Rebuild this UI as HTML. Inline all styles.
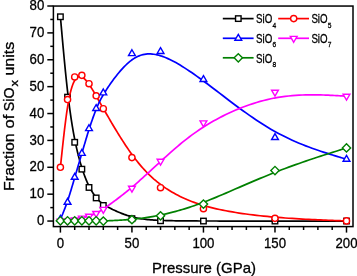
<!DOCTYPE html>
<html><head><meta charset="utf-8"><title>Fraction of SiOx units vs Pressure</title>
<style>html,body{margin:0;padding:0;background:#fff}svg text{white-space:pre;stroke:#000;stroke-width:0.3px}</style></head>
<body>
<svg width="357" height="276" viewBox="0 0 357 276" style="display:block">
<rect width="357" height="276" fill="#fff"/>
<g stroke="#000" stroke-width="1.50" fill="none">
<rect x="53.40" y="6.05" width="299.60" height="220.55"/>
<path d="M53.40 221.05H47.30"/>
<path d="M53.40 207.61H50.30"/>
<path d="M53.40 194.17H47.30"/>
<path d="M53.40 180.73H50.30"/>
<path d="M53.40 167.29H47.30"/>
<path d="M53.40 153.85H50.30"/>
<path d="M53.40 140.41H47.30"/>
<path d="M53.40 126.97H50.30"/>
<path d="M53.40 113.53H47.30"/>
<path d="M53.40 100.09H50.30"/>
<path d="M53.40 86.65H47.30"/>
<path d="M53.40 73.21H50.30"/>
<path d="M53.40 59.77H47.30"/>
<path d="M53.40 46.33H50.30"/>
<path d="M53.40 32.89H47.30"/>
<path d="M53.40 19.45H50.30"/>
<path d="M53.40 6.01H47.30"/>
<path d="M60.40 226.60V232.60"/>
<path d="M74.70 226.60V230.00"/>
<path d="M89.01 226.60V230.00"/>
<path d="M103.31 226.60V230.00"/>
<path d="M117.62 226.60V230.00"/>
<path d="M131.93 226.60V232.60"/>
<path d="M146.23 226.60V230.00"/>
<path d="M160.53 226.60V230.00"/>
<path d="M174.84 226.60V230.00"/>
<path d="M189.15 226.60V230.00"/>
<path d="M203.45 226.60V232.60"/>
<path d="M217.76 226.60V230.00"/>
<path d="M232.06 226.60V230.00"/>
<path d="M246.37 226.60V230.00"/>
<path d="M260.67 226.60V230.00"/>
<path d="M274.98 226.60V232.60"/>
<path d="M289.28 226.60V230.00"/>
<path d="M303.59 226.60V230.00"/>
<path d="M317.89 226.60V230.00"/>
<path d="M332.19 226.60V230.00"/>
<path d="M346.50 226.60V232.60"/>
</g>
<path d="M60.40 16.76 L60.40 16.76 L60.40 16.78 L60.40 16.81 L60.41 16.87 L60.42 16.97 L60.43 17.13 L60.45 17.34 L60.48 17.63 L60.51 18.00 L60.55 18.46 L60.60 19.02 L60.66 19.69 L60.73 20.48 L60.81 21.41 L60.91 22.48 L61.02 23.70 L61.14 25.08 L61.28 26.64 L61.43 28.38 L61.61 30.31 L61.80 32.44 L62.00 34.76 L62.23 37.25 L62.46 39.90 L62.72 42.69 L62.98 45.61 L63.26 48.64 L63.55 51.77 L63.85 54.99 L64.16 58.27 L64.48 61.61 L64.81 64.99 L65.14 68.40 L65.48 71.82 L65.83 75.23 L66.18 78.63 L66.53 81.99 L66.89 85.31 L67.25 88.57 L67.61 91.75 L67.97 94.84 L68.33 97.85 L68.68 100.77 L69.04 103.61 L69.40 106.37 L69.76 109.05 L70.12 111.66 L70.48 114.20 L70.84 116.66 L71.20 119.05 L71.56 121.38 L71.92 123.64 L72.27 125.84 L72.63 127.98 L72.99 130.06 L73.35 132.08 L73.71 134.05 L74.07 135.97 L74.43 137.84 L74.79 139.66 L75.15 141.44 L75.51 143.17 L75.86 144.85 L76.22 146.50 L76.58 148.10 L76.94 149.67 L77.30 151.19 L77.66 152.68 L78.02 154.13 L78.38 155.55 L78.74 156.93 L79.10 158.29 L79.45 159.61 L79.81 160.90 L80.17 162.16 L80.53 163.40 L80.89 164.60 L81.25 165.79 L81.61 166.95 L81.97 168.09 L82.33 169.20 L82.69 170.30 L83.04 171.37 L83.40 172.42 L83.76 173.45 L84.12 174.46 L84.48 175.45 L84.84 176.42 L85.20 177.36 L85.56 178.29 L85.92 179.19 L86.28 180.08 L86.64 180.94 L86.99 181.78 L87.35 182.61 L87.71 183.41 L88.07 184.20 L88.43 184.96 L88.79 185.70 L89.15 186.43 L89.51 187.13 L89.87 187.82 L90.23 188.49 L90.58 189.14 L90.94 189.77 L91.30 190.39 L91.66 190.99 L92.02 191.57 L92.38 192.14 L92.74 192.70 L93.10 193.25 L93.46 193.78 L93.82 194.30 L94.17 194.81 L94.53 195.30 L94.89 195.79 L95.25 196.27 L95.61 196.74 L95.97 197.20 L96.33 197.65 L96.69 198.09 L97.05 198.53 L97.42 198.97 L97.80 199.40 L98.20 199.83 L98.60 200.25 L99.03 200.68 L99.47 201.11 L99.94 201.54 L100.44 201.97 L100.96 202.40 L101.51 202.85 L102.10 203.29 L102.72 203.75 L103.38 204.21 L104.09 204.68 L104.84 205.16 L105.64 205.66 L106.48 206.16 L107.38 206.68 L108.33 207.22 L109.34 207.76 L110.39 208.31 L111.48 208.87 L112.61 209.44 L113.79 210.00 L115.00 210.57 L116.24 211.14 L117.52 211.70 L118.82 212.25 L120.15 212.80 L121.50 213.34 L122.87 213.86 L124.26 214.38 L125.67 214.87 L127.08 215.35 L128.51 215.80 L129.94 216.24 L131.37 216.64 L132.81 217.03 L134.25 217.38 L135.69 217.71 L137.13 218.01 L138.58 218.29 L140.04 218.55 L141.51 218.79 L142.99 219.00 L144.49 219.20 L146.00 219.38 L147.53 219.54 L149.08 219.69 L150.65 219.82 L152.24 219.94 L153.85 220.05 L155.50 220.15 L157.17 220.23 L158.87 220.31 L160.60 220.38 L162.37 220.45 L164.17 220.51 L166.01 220.56 L167.89 220.61 L169.81 220.66 L171.77 220.70 L173.78 220.74 L175.83 220.78 L177.93 220.81 L180.08 220.84 L182.28 220.86 L184.54 220.89 L186.85 220.91 L189.22 220.93 L191.65 220.94 L194.14 220.96 L196.69 220.97 L199.31 220.98 L201.99 220.99 L204.74 221.00 L207.56 221.00 L210.45 221.01 L213.41 221.02 L216.44 221.02 L219.52 221.03 L222.67 221.03 L225.87 221.03 L229.12 221.04 L232.42 221.04 L235.77 221.04 L239.15 221.04 L242.57 221.05 L246.03 221.05 L249.51 221.05 L253.02 221.05 L256.55 221.05 L260.11 221.05 L263.67 221.05 L267.25 221.05 L270.83 221.05 L274.42 221.05 L278.01 221.05 L281.59 221.05 L285.16 221.05 L288.70 221.05 L292.20 221.05 L295.66 221.05 L299.07 221.05 L302.42 221.05 L305.69 221.05 L308.88 221.05 L311.99 221.05 L315.00 221.05 L317.90 221.05 L320.68 221.05 L323.34 221.05 L325.87 221.05 L328.25 221.05 L330.48 221.05 L332.54 221.05 L334.44 221.05 L336.16 221.05 L337.71 221.05 L339.09 221.05 L340.33 221.05 L341.41 221.05 L342.36 221.05 L343.19 221.05 L343.90 221.05 L344.49 221.05 L344.99 221.05 L345.40 221.05 L345.73 221.05 L345.98 221.05 L346.17 221.05 L346.31 221.05 L346.40 221.05 L346.46 221.05 L346.49 221.05 L346.50 221.05 L346.50 221.05" fill="none" stroke="#000000" stroke-width="1.70" stroke-linejoin="round"/>
<rect x="57.65" y="14.01" width="5.50" height="5.50" fill="#fff" stroke="#000000" stroke-width="1.40"/>
<rect x="64.80" y="94.38" width="5.50" height="5.50" fill="#fff" stroke="#000000" stroke-width="1.40"/>
<rect x="71.95" y="139.54" width="5.50" height="5.50" fill="#fff" stroke="#000000" stroke-width="1.40"/>
<rect x="79.11" y="166.42" width="5.50" height="5.50" fill="#fff" stroke="#000000" stroke-width="1.40"/>
<rect x="86.26" y="184.70" width="5.50" height="5.50" fill="#fff" stroke="#000000" stroke-width="1.40"/>
<rect x="93.41" y="195.18" width="5.50" height="5.50" fill="#fff" stroke="#000000" stroke-width="1.40"/>
<rect x="100.56" y="202.71" width="5.50" height="5.50" fill="#fff" stroke="#000000" stroke-width="1.40"/>
<rect x="129.18" y="215.88" width="5.50" height="5.50" fill="#fff" stroke="#000000" stroke-width="1.40"/>
<rect x="157.78" y="218.03" width="5.50" height="5.50" fill="#fff" stroke="#000000" stroke-width="1.40"/>
<rect x="200.70" y="218.30" width="5.50" height="5.50" fill="#fff" stroke="#000000" stroke-width="1.40"/>
<rect x="272.23" y="218.30" width="5.50" height="5.50" fill="#fff" stroke="#000000" stroke-width="1.40"/>
<rect x="343.75" y="218.30" width="5.50" height="5.50" fill="#fff" stroke="#000000" stroke-width="1.40"/>
<path d="M60.40 167.29 L60.40 167.29 L60.40 167.28 L60.40 167.25 L60.41 167.20 L60.42 167.11 L60.43 166.98 L60.45 166.80 L60.48 166.56 L60.51 166.25 L60.55 165.86 L60.60 165.39 L60.66 164.82 L60.73 164.15 L60.81 163.37 L60.91 162.47 L61.02 161.44 L61.14 160.28 L61.28 158.96 L61.43 157.50 L61.61 155.87 L61.80 154.07 L62.00 152.12 L62.23 150.03 L62.46 147.81 L62.72 145.48 L62.98 143.05 L63.26 140.54 L63.55 137.96 L63.85 135.32 L64.16 132.64 L64.48 129.93 L64.81 127.22 L65.14 124.50 L65.48 121.80 L65.83 119.13 L66.18 116.50 L66.53 113.94 L66.89 111.44 L67.25 109.04 L67.61 106.73 L67.97 104.54 L68.33 102.46 L68.68 100.48 L69.04 98.61 L69.40 96.84 L69.76 95.17 L70.12 93.59 L70.48 92.10 L70.84 90.71 L71.20 89.39 L71.56 88.17 L71.92 87.02 L72.27 85.95 L72.63 84.95 L72.99 84.02 L73.35 83.16 L73.71 82.36 L74.07 81.63 L74.43 80.95 L74.79 80.33 L75.15 79.76 L75.51 79.24 L75.86 78.77 L76.22 78.35 L76.58 77.98 L76.94 77.65 L77.30 77.37 L77.66 77.13 L78.02 76.93 L78.38 76.77 L78.74 76.65 L79.10 76.57 L79.45 76.52 L79.81 76.51 L80.17 76.53 L80.53 76.58 L80.89 76.66 L81.25 76.77 L81.61 76.91 L81.97 77.07 L82.33 77.26 L82.69 77.47 L83.04 77.71 L83.40 77.97 L83.76 78.25 L84.12 78.55 L84.48 78.87 L84.84 79.21 L85.20 79.57 L85.56 79.94 L85.92 80.34 L86.28 80.75 L86.64 81.17 L86.99 81.61 L87.35 82.07 L87.71 82.53 L88.07 83.01 L88.43 83.51 L88.79 84.01 L89.15 84.52 L89.51 85.04 L89.87 85.57 L90.23 86.11 L90.58 86.65 L90.94 87.21 L91.30 87.77 L91.66 88.34 L92.02 88.92 L92.38 89.50 L92.74 90.09 L93.10 90.68 L93.46 91.28 L93.82 91.88 L94.17 92.49 L94.53 93.10 L94.89 93.72 L95.25 94.34 L95.61 94.96 L95.97 95.59 L96.33 96.21 L96.69 96.85 L97.05 97.49 L97.42 98.14 L97.80 98.81 L98.20 99.50 L98.60 100.22 L99.03 100.97 L99.47 101.75 L99.94 102.58 L100.44 103.45 L100.96 104.37 L101.51 105.34 L102.10 106.36 L102.72 107.45 L103.38 108.61 L104.09 109.84 L104.84 111.14 L105.64 112.52 L106.48 113.99 L107.38 115.54 L108.33 117.19 L109.34 118.91 L110.39 120.70 L111.48 122.56 L112.61 124.48 L113.79 126.46 L115.00 128.47 L116.24 130.53 L117.52 132.62 L118.82 134.73 L120.15 136.86 L121.50 139.00 L122.87 141.15 L124.26 143.29 L125.67 145.42 L127.08 147.54 L128.51 149.63 L129.94 151.69 L131.37 153.71 L132.81 155.69 L134.25 157.62 L135.69 159.51 L137.13 161.35 L138.58 163.15 L140.04 164.90 L141.51 166.62 L142.99 168.30 L144.49 169.94 L146.00 171.54 L147.53 173.10 L149.08 174.64 L150.65 176.13 L152.24 177.60 L153.85 179.04 L155.50 180.44 L157.17 181.82 L158.87 183.17 L160.60 184.50 L162.37 185.80 L164.17 187.08 L166.01 188.33 L167.89 189.56 L169.81 190.77 L171.77 191.95 L173.78 193.11 L175.83 194.24 L177.93 195.35 L180.08 196.44 L182.28 197.50 L184.54 198.53 L186.85 199.54 L189.22 200.52 L191.65 201.47 L194.14 202.40 L196.69 203.30 L199.31 204.17 L201.99 205.02 L204.74 205.84 L207.56 206.63 L210.45 207.39 L213.41 208.12 L216.44 208.83 L219.52 209.50 L222.67 210.16 L225.87 210.78 L229.12 211.38 L232.42 211.96 L235.77 212.51 L239.15 213.04 L242.57 213.55 L246.03 214.03 L249.51 214.49 L253.02 214.93 L256.55 215.34 L260.11 215.74 L263.67 216.11 L267.25 216.47 L270.83 216.81 L274.42 217.13 L278.01 217.43 L281.59 217.71 L285.16 217.98 L288.70 218.23 L292.20 218.46 L295.66 218.68 L299.07 218.89 L302.42 219.08 L305.69 219.25 L308.88 219.42 L311.99 219.57 L315.00 219.71 L317.90 219.84 L320.68 219.96 L323.34 220.07 L325.87 220.17 L328.25 220.26 L330.48 220.34 L332.54 220.42 L334.44 220.49 L336.16 220.55 L337.71 220.60 L339.09 220.65 L340.33 220.70 L341.41 220.73 L342.36 220.77 L343.19 220.80 L343.90 220.82 L344.49 220.84 L344.99 220.86 L345.40 220.88 L345.73 220.89 L345.98 220.90 L346.17 220.90 L346.31 220.91 L346.40 220.91 L346.46 220.91 L346.49 220.92 L346.50 220.92 L346.50 220.92" fill="none" stroke="#ff0000" stroke-width="1.70" stroke-linejoin="round"/>
<circle cx="60.40" cy="167.29" r="3.1" fill="#fff" stroke="#ff0000" stroke-width="1.40"/>
<circle cx="67.55" cy="99.55" r="3.1" fill="#fff" stroke="#ff0000" stroke-width="1.40"/>
<circle cx="74.70" cy="76.97" r="3.1" fill="#fff" stroke="#ff0000" stroke-width="1.40"/>
<circle cx="81.86" cy="75.36" r="3.1" fill="#fff" stroke="#ff0000" stroke-width="1.40"/>
<circle cx="89.01" cy="83.69" r="3.1" fill="#fff" stroke="#ff0000" stroke-width="1.40"/>
<circle cx="96.16" cy="95.79" r="3.1" fill="#fff" stroke="#ff0000" stroke-width="1.40"/>
<circle cx="103.31" cy="108.69" r="3.1" fill="#fff" stroke="#ff0000" stroke-width="1.40"/>
<circle cx="131.93" cy="157.61" r="3.1" fill="#fff" stroke="#ff0000" stroke-width="1.40"/>
<circle cx="160.53" cy="187.72" r="3.1" fill="#fff" stroke="#ff0000" stroke-width="1.40"/>
<circle cx="203.45" cy="208.69" r="3.1" fill="#fff" stroke="#ff0000" stroke-width="1.40"/>
<circle cx="274.98" cy="218.36" r="3.1" fill="#fff" stroke="#ff0000" stroke-width="1.40"/>
<circle cx="346.50" cy="220.92" r="3.1" fill="#fff" stroke="#ff0000" stroke-width="1.40"/>
<path d="M60.40 219.30 L60.40 219.30 L60.40 219.30 L60.40 219.29 L60.41 219.28 L60.42 219.26 L60.43 219.23 L60.45 219.18 L60.48 219.12 L60.51 219.04 L60.55 218.95 L60.60 218.83 L60.66 218.69 L60.73 218.52 L60.81 218.32 L60.91 218.10 L61.02 217.84 L61.14 217.55 L61.28 217.22 L61.43 216.85 L61.61 216.45 L61.80 216.00 L62.00 215.51 L62.23 214.98 L62.46 214.41 L62.72 213.80 L62.98 213.15 L63.26 212.47 L63.55 211.75 L63.85 211.01 L64.16 210.22 L64.48 209.41 L64.81 208.57 L65.14 207.69 L65.48 206.79 L65.83 205.86 L66.18 204.91 L66.53 203.93 L66.89 202.93 L67.25 201.91 L67.61 200.86 L67.97 199.80 L68.33 198.71 L68.68 197.61 L69.04 196.49 L69.40 195.36 L69.76 194.21 L70.12 193.05 L70.48 191.87 L70.84 190.69 L71.20 189.49 L71.56 188.29 L71.92 187.08 L72.27 185.86 L72.63 184.64 L72.99 183.41 L73.35 182.19 L73.71 180.96 L74.07 179.72 L74.43 178.49 L74.79 177.27 L75.15 176.04 L75.51 174.82 L75.86 173.60 L76.22 172.38 L76.58 171.16 L76.94 169.94 L77.30 168.73 L77.66 167.51 L78.02 166.30 L78.38 165.09 L78.74 163.88 L79.10 162.66 L79.45 161.45 L79.81 160.24 L80.17 159.02 L80.53 157.81 L80.89 156.59 L81.25 155.38 L81.61 154.16 L81.97 152.94 L82.33 151.71 L82.69 150.49 L83.04 149.27 L83.40 148.04 L83.76 146.82 L84.12 145.60 L84.48 144.38 L84.84 143.16 L85.20 141.95 L85.56 140.74 L85.92 139.54 L86.28 138.34 L86.64 137.15 L86.99 135.97 L87.35 134.79 L87.71 133.62 L88.07 132.46 L88.43 131.31 L88.79 130.17 L89.15 129.05 L89.51 127.93 L89.87 126.83 L90.23 125.73 L90.58 124.65 L90.94 123.58 L91.30 122.52 L91.66 121.47 L92.02 120.44 L92.38 119.41 L92.74 118.40 L93.10 117.40 L93.46 116.41 L93.82 115.43 L94.17 114.46 L94.53 113.51 L94.89 112.57 L95.25 111.63 L95.61 110.71 L95.97 109.80 L96.33 108.91 L96.69 108.02 L97.05 107.14 L97.42 106.26 L97.80 105.38 L98.20 104.49 L98.60 103.60 L99.03 102.70 L99.47 101.78 L99.94 100.84 L100.44 99.88 L100.96 98.90 L101.51 97.88 L102.10 96.83 L102.72 95.75 L103.38 94.62 L104.09 93.46 L104.84 92.24 L105.64 90.97 L106.48 89.65 L107.38 88.27 L108.33 86.84 L109.34 85.36 L110.39 83.84 L111.48 82.28 L112.61 80.71 L113.79 79.11 L115.00 77.51 L116.24 75.90 L117.52 74.30 L118.82 72.71 L120.15 71.15 L121.50 69.61 L122.87 68.11 L124.26 66.65 L125.67 65.25 L127.08 63.91 L128.51 62.63 L129.94 61.43 L131.37 60.31 L132.81 59.28 L134.25 58.35 L135.69 57.50 L137.13 56.75 L138.58 56.09 L140.04 55.52 L141.51 55.03 L142.99 54.64 L144.49 54.33 L146.00 54.10 L147.53 53.97 L149.08 53.91 L150.65 53.94 L152.24 54.05 L153.85 54.24 L155.50 54.51 L157.17 54.87 L158.87 55.30 L160.60 55.81 L162.37 56.39 L164.17 57.06 L166.01 57.79 L167.89 58.61 L169.81 59.50 L171.77 60.46 L173.78 61.50 L175.83 62.62 L177.93 63.81 L180.08 65.08 L182.28 66.43 L184.54 67.85 L186.85 69.35 L189.22 70.92 L191.65 72.57 L194.14 74.29 L196.69 76.09 L199.31 77.97 L201.99 79.92 L204.74 81.94 L207.56 84.05 L210.45 86.23 L213.41 88.47 L216.44 90.78 L219.52 93.14 L222.67 95.55 L225.87 97.99 L229.12 100.46 L232.42 102.95 L235.77 105.45 L239.15 107.95 L242.57 110.44 L246.03 112.92 L249.51 115.37 L253.02 117.80 L256.55 120.18 L260.11 122.52 L263.67 124.80 L267.25 127.01 L270.83 129.15 L274.42 131.21 L278.01 133.18 L281.59 135.06 L285.16 136.85 L288.70 138.55 L292.20 140.17 L295.66 141.70 L299.07 143.16 L302.42 144.54 L305.69 145.84 L308.88 147.06 L311.99 148.21 L315.00 149.29 L317.90 150.30 L320.68 151.24 L323.34 152.12 L325.87 152.93 L328.25 153.68 L330.48 154.37 L332.54 155.00 L334.44 155.58 L336.16 156.10 L337.71 156.57 L339.09 156.99 L340.33 157.36 L341.41 157.69 L342.36 157.97 L343.19 158.22 L343.90 158.44 L344.49 158.62 L344.99 158.77 L345.40 158.89 L345.73 158.99 L345.98 159.07 L346.17 159.13 L346.31 159.17 L346.40 159.20 L346.46 159.21 L346.49 159.22 L346.50 159.23 L346.50 159.23" fill="none" stroke="#0000ff" stroke-width="1.70" stroke-linejoin="round"/>
<path d="M60.40 215.35 L63.80 221.25 L57.00 221.25 Z" fill="#fff" stroke="#0000ff" stroke-width="1.40"/>
<path d="M67.55 198.42 L70.95 204.32 L64.15 204.32 Z" fill="#fff" stroke="#0000ff" stroke-width="1.40"/>
<path d="M74.70 173.42 L78.11 179.32 L71.30 179.32 Z" fill="#fff" stroke="#0000ff" stroke-width="1.40"/>
<path d="M81.86 149.50 L85.26 155.40 L78.46 155.40 Z" fill="#fff" stroke="#0000ff" stroke-width="1.40"/>
<path d="M89.01 124.77 L92.41 130.67 L85.61 130.67 Z" fill="#fff" stroke="#0000ff" stroke-width="1.40"/>
<path d="M96.16 104.61 L99.56 110.51 L92.76 110.51 Z" fill="#fff" stroke="#0000ff" stroke-width="1.40"/>
<path d="M103.31 89.02 L106.72 94.92 L99.91 94.92 Z" fill="#fff" stroke="#0000ff" stroke-width="1.40"/>
<path d="M131.93 49.77 L135.33 55.67 L128.53 55.67 Z" fill="#fff" stroke="#0000ff" stroke-width="1.40"/>
<path d="M160.53 47.62 L163.94 53.52 L157.13 53.52 Z" fill="#fff" stroke="#0000ff" stroke-width="1.40"/>
<path d="M203.45 75.58 L206.85 81.48 L200.05 81.48 Z" fill="#fff" stroke="#0000ff" stroke-width="1.40"/>
<path d="M274.98 133.64 L278.38 139.54 L271.58 139.54 Z" fill="#fff" stroke="#0000ff" stroke-width="1.40"/>
<path d="M346.50 155.28 L349.90 161.18 L343.10 161.18 Z" fill="#fff" stroke="#0000ff" stroke-width="1.40"/>
<path d="M60.40 221.05 L60.40 221.05 L60.40 221.05 L60.40 221.05 L60.41 221.05 L60.42 221.05 L60.43 221.05 L60.45 221.05 L60.48 221.05 L60.51 221.05 L60.55 221.05 L60.60 221.05 L60.66 221.05 L60.73 221.05 L60.81 221.05 L60.91 221.05 L61.02 221.05 L61.14 221.05 L61.28 221.05 L61.43 221.05 L61.61 221.05 L61.80 221.05 L62.00 221.05 L62.23 221.05 L62.46 221.05 L62.72 221.05 L62.98 221.05 L63.26 221.04 L63.55 221.04 L63.85 221.03 L64.16 221.03 L64.48 221.02 L64.81 221.01 L65.14 221.00 L65.48 220.99 L65.83 220.97 L66.18 220.96 L66.53 220.94 L66.89 220.92 L67.25 220.90 L67.61 220.87 L67.97 220.84 L68.33 220.81 L68.68 220.78 L69.04 220.74 L69.40 220.71 L69.76 220.66 L70.12 220.62 L70.48 220.58 L70.84 220.53 L71.20 220.48 L71.56 220.42 L71.92 220.37 L72.27 220.31 L72.63 220.25 L72.99 220.19 L73.35 220.12 L73.71 220.06 L74.07 219.99 L74.43 219.91 L74.79 219.84 L75.15 219.77 L75.51 219.69 L75.86 219.61 L76.22 219.53 L76.58 219.44 L76.94 219.36 L77.30 219.27 L77.66 219.18 L78.02 219.10 L78.38 219.01 L78.74 218.91 L79.10 218.82 L79.45 218.73 L79.81 218.64 L80.17 218.54 L80.53 218.45 L80.89 218.35 L81.25 218.26 L81.61 218.16 L81.97 218.06 L82.33 217.97 L82.69 217.87 L83.04 217.78 L83.40 217.68 L83.76 217.58 L84.12 217.48 L84.48 217.39 L84.84 217.29 L85.20 217.19 L85.56 217.09 L85.92 216.98 L86.28 216.88 L86.64 216.77 L86.99 216.67 L87.35 216.56 L87.71 216.45 L88.07 216.34 L88.43 216.22 L88.79 216.11 L89.15 215.99 L89.51 215.87 L89.87 215.75 L90.23 215.62 L90.58 215.50 L90.94 215.37 L91.30 215.24 L91.66 215.10 L92.02 214.96 L92.38 214.82 L92.74 214.68 L93.10 214.54 L93.46 214.39 L93.82 214.24 L94.17 214.09 L94.53 213.93 L94.89 213.77 L95.25 213.61 L95.61 213.44 L95.97 213.27 L96.33 213.10 L96.69 212.93 L97.05 212.75 L97.42 212.56 L97.80 212.36 L98.20 212.15 L98.60 211.92 L99.03 211.68 L99.47 211.42 L99.94 211.14 L100.44 210.84 L100.96 210.51 L101.51 210.16 L102.10 209.78 L102.72 209.37 L103.38 208.93 L104.09 208.45 L104.84 207.94 L105.64 207.39 L106.48 206.80 L107.38 206.17 L108.33 205.49 L109.34 204.78 L110.39 204.02 L111.48 203.23 L112.61 202.40 L113.79 201.53 L115.00 200.64 L116.24 199.71 L117.52 198.74 L118.82 197.75 L120.15 196.73 L121.50 195.69 L122.87 194.62 L124.26 193.52 L125.67 192.40 L127.08 191.26 L128.51 190.10 L129.94 188.93 L131.37 187.73 L132.81 186.52 L134.25 185.30 L135.69 184.06 L137.13 182.80 L138.58 181.53 L140.04 180.23 L141.51 178.92 L142.99 177.59 L144.49 176.24 L146.00 174.87 L147.53 173.47 L149.08 172.06 L150.65 170.62 L152.24 169.16 L153.85 167.67 L155.50 166.16 L157.17 164.62 L158.87 163.05 L160.60 161.46 L162.37 159.84 L164.17 158.19 L166.01 156.52 L167.89 154.82 L169.81 153.10 L171.77 151.36 L173.78 149.60 L175.83 147.82 L177.93 146.04 L180.08 144.24 L182.28 142.43 L184.54 140.62 L186.85 138.81 L189.22 137.00 L191.65 135.19 L194.14 133.38 L196.69 131.58 L199.31 129.79 L201.99 128.01 L204.74 126.25 L207.56 124.50 L210.45 122.78 L213.41 121.07 L216.44 119.39 L219.52 117.74 L222.67 116.12 L225.87 114.54 L229.12 112.99 L232.42 111.49 L235.77 110.04 L239.15 108.63 L242.57 107.28 L246.03 105.98 L249.51 104.75 L253.02 103.57 L256.55 102.46 L260.11 101.43 L263.67 100.46 L267.25 99.58 L270.83 98.77 L274.42 98.04 L278.01 97.41 L281.59 96.85 L285.16 96.37 L288.70 95.97 L292.20 95.64 L295.66 95.37 L299.07 95.15 L302.42 94.99 L305.69 94.89 L308.88 94.82 L311.99 94.79 L315.00 94.80 L317.90 94.84 L320.68 94.90 L323.34 94.98 L325.87 95.08 L328.25 95.18 L330.48 95.30 L332.54 95.41 L334.44 95.51 L336.16 95.61 L337.71 95.70 L339.09 95.77 L340.33 95.84 L341.41 95.91 L342.36 95.96 L343.19 96.01 L343.90 96.05 L344.49 96.08 L344.99 96.11 L345.40 96.13 L345.73 96.15 L345.98 96.16 L346.17 96.17 L346.31 96.18 L346.40 96.19 L346.46 96.19 L346.49 96.19 L346.50 96.19 L346.50 96.19" fill="none" stroke="#ff00ff" stroke-width="1.70" stroke-linejoin="round"/>
<path d="M60.40 225.00 L63.80 219.10 L57.00 219.10 Z" fill="#fff" stroke="#ff00ff" stroke-width="1.40"/>
<path d="M67.55 225.00 L70.95 219.10 L64.15 219.10 Z" fill="#fff" stroke="#ff00ff" stroke-width="1.40"/>
<path d="M74.70 223.95 L78.11 218.05 L71.30 218.05 Z" fill="#fff" stroke="#ff00ff" stroke-width="1.40"/>
<path d="M81.86 222.04 L85.26 216.14 L78.46 216.14 Z" fill="#fff" stroke="#ff00ff" stroke-width="1.40"/>
<path d="M89.01 220.13 L92.41 214.23 L85.61 214.23 Z" fill="#fff" stroke="#ff00ff" stroke-width="1.40"/>
<path d="M96.16 217.34 L99.56 211.44 L92.76 211.44 Z" fill="#fff" stroke="#ff00ff" stroke-width="1.40"/>
<path d="M103.31 213.31 L106.72 207.41 L99.91 207.41 Z" fill="#fff" stroke="#ff00ff" stroke-width="1.40"/>
<path d="M131.93 192.21 L135.33 186.31 L128.53 186.31 Z" fill="#fff" stroke="#ff00ff" stroke-width="1.40"/>
<path d="M160.53 165.19 L163.94 159.29 L157.13 159.29 Z" fill="#fff" stroke="#ff00ff" stroke-width="1.40"/>
<path d="M203.45 126.75 L206.85 120.85 L200.05 120.85 Z" fill="#fff" stroke="#ff00ff" stroke-width="1.40"/>
<path d="M274.98 96.11 L278.38 90.21 L271.58 90.21 Z" fill="#fff" stroke="#ff00ff" stroke-width="1.40"/>
<path d="M346.50 100.14 L349.90 94.24 L343.10 94.24 Z" fill="#fff" stroke="#ff00ff" stroke-width="1.40"/>
<path d="M60.40 220.78 L60.40 220.78 L60.40 220.78 L60.40 220.78 L60.41 220.78 L60.42 220.78 L60.43 220.78 L60.45 220.78 L60.48 220.78 L60.51 220.78 L60.55 220.78 L60.60 220.78 L60.66 220.78 L60.73 220.78 L60.81 220.78 L60.91 220.78 L61.02 220.78 L61.14 220.78 L61.28 220.78 L61.43 220.78 L61.61 220.78 L61.80 220.78 L62.00 220.78 L62.23 220.78 L62.46 220.78 L62.72 220.78 L62.98 220.78 L63.26 220.78 L63.55 220.78 L63.85 220.78 L64.16 220.78 L64.48 220.78 L64.81 220.78 L65.14 220.78 L65.48 220.78 L65.83 220.78 L66.18 220.78 L66.53 220.78 L66.89 220.78 L67.25 220.78 L67.61 220.78 L67.97 220.78 L68.33 220.78 L68.68 220.78 L69.04 220.78 L69.40 220.78 L69.76 220.78 L70.12 220.78 L70.48 220.78 L70.84 220.78 L71.20 220.78 L71.56 220.78 L71.92 220.78 L72.27 220.78 L72.63 220.78 L72.99 220.78 L73.35 220.78 L73.71 220.78 L74.07 220.78 L74.43 220.78 L74.79 220.78 L75.15 220.78 L75.51 220.78 L75.86 220.78 L76.22 220.78 L76.58 220.78 L76.94 220.78 L77.30 220.78 L77.66 220.78 L78.02 220.78 L78.38 220.78 L78.74 220.78 L79.10 220.78 L79.45 220.78 L79.81 220.78 L80.17 220.78 L80.53 220.78 L80.89 220.78 L81.25 220.78 L81.61 220.78 L81.97 220.78 L82.33 220.78 L82.69 220.78 L83.04 220.78 L83.40 220.78 L83.76 220.78 L84.12 220.78 L84.48 220.78 L84.84 220.78 L85.20 220.78 L85.56 220.78 L85.92 220.78 L86.28 220.78 L86.64 220.78 L86.99 220.78 L87.35 220.78 L87.71 220.78 L88.07 220.78 L88.43 220.78 L88.79 220.78 L89.15 220.78 L89.51 220.78 L89.87 220.78 L90.23 220.78 L90.58 220.78 L90.94 220.78 L91.30 220.78 L91.66 220.78 L92.02 220.78 L92.38 220.79 L92.74 220.79 L93.10 220.79 L93.46 220.79 L93.82 220.79 L94.17 220.80 L94.53 220.80 L94.89 220.81 L95.25 220.81 L95.61 220.82 L95.97 220.82 L96.33 220.83 L96.69 220.84 L97.05 220.84 L97.42 220.85 L97.80 220.86 L98.20 220.87 L98.60 220.87 L99.03 220.88 L99.47 220.88 L99.94 220.89 L100.44 220.89 L100.96 220.89 L101.51 220.89 L102.10 220.88 L102.72 220.87 L103.38 220.86 L104.09 220.85 L104.84 220.84 L105.64 220.82 L106.48 220.79 L107.38 220.77 L108.33 220.73 L109.34 220.70 L110.39 220.66 L111.48 220.62 L112.61 220.57 L113.79 220.51 L115.00 220.45 L116.24 220.39 L117.52 220.32 L118.82 220.25 L120.15 220.17 L121.50 220.08 L122.87 219.99 L124.26 219.90 L125.67 219.80 L127.08 219.69 L128.51 219.58 L129.94 219.46 L131.37 219.33 L132.81 219.20 L134.25 219.06 L135.69 218.91 L137.13 218.76 L138.58 218.59 L140.04 218.42 L141.51 218.24 L142.99 218.04 L144.49 217.84 L146.00 217.62 L147.53 217.39 L149.08 217.15 L150.65 216.89 L152.24 216.61 L153.85 216.33 L155.50 216.02 L157.17 215.70 L158.87 215.36 L160.60 215.00 L162.37 214.63 L164.17 214.23 L166.01 213.82 L167.89 213.38 L169.81 212.92 L171.77 212.43 L173.78 211.91 L175.83 211.36 L177.93 210.78 L180.08 210.17 L182.28 209.52 L184.54 208.84 L186.85 208.12 L189.22 207.35 L191.65 206.55 L194.14 205.70 L196.69 204.80 L199.31 203.86 L201.99 202.87 L204.74 201.82 L207.56 200.73 L210.45 199.57 L213.41 198.37 L216.44 197.12 L219.52 195.83 L222.67 194.49 L225.87 193.12 L229.12 191.72 L232.42 190.29 L235.77 188.84 L239.15 187.37 L242.57 185.89 L246.03 184.40 L249.51 182.90 L253.02 181.39 L256.55 179.89 L260.11 178.40 L263.67 176.92 L267.25 175.45 L270.83 174.00 L274.42 172.57 L278.01 171.17 L281.59 169.80 L285.16 168.46 L288.70 167.15 L292.20 165.87 L295.66 164.63 L299.07 163.43 L302.42 162.26 L305.69 161.14 L308.88 160.05 L311.99 159.00 L315.00 158.00 L317.90 157.05 L320.68 156.14 L323.34 155.28 L325.87 154.47 L328.25 153.71 L330.48 153.00 L332.54 152.34 L334.44 151.74 L336.16 151.20 L337.71 150.71 L339.09 150.27 L340.33 149.89 L341.41 149.54 L342.36 149.24 L343.19 148.98 L343.90 148.76 L344.49 148.57 L344.99 148.41 L345.40 148.28 L345.73 148.18 L345.98 148.10 L346.17 148.04 L346.31 148.00 L346.40 147.97 L346.46 147.95 L346.49 147.94 L346.50 147.94 L346.50 147.94" fill="none" stroke="#008000" stroke-width="1.70" stroke-linejoin="round"/>
<path d="M60.40 216.63 L64.55 220.78 L60.40 224.93 L56.25 220.78 Z" fill="#fff" stroke="#008000" stroke-width="1.40"/>
<path d="M67.55 216.63 L71.70 220.78 L67.55 224.93 L63.40 220.78 Z" fill="#fff" stroke="#008000" stroke-width="1.40"/>
<path d="M74.70 216.63 L78.86 220.78 L74.70 224.93 L70.55 220.78 Z" fill="#fff" stroke="#008000" stroke-width="1.40"/>
<path d="M81.86 216.63 L86.01 220.78 L81.86 224.93 L77.71 220.78 Z" fill="#fff" stroke="#008000" stroke-width="1.40"/>
<path d="M89.01 216.63 L93.16 220.78 L89.01 224.93 L84.86 220.78 Z" fill="#fff" stroke="#008000" stroke-width="1.40"/>
<path d="M96.16 216.63 L100.31 220.78 L96.16 224.93 L92.01 220.78 Z" fill="#fff" stroke="#008000" stroke-width="1.40"/>
<path d="M103.31 216.90 L107.47 221.05 L103.31 225.20 L99.16 221.05 Z" fill="#fff" stroke="#008000" stroke-width="1.40"/>
<path d="M131.93 215.56 L136.08 219.71 L131.93 223.86 L127.78 219.71 Z" fill="#fff" stroke="#008000" stroke-width="1.40"/>
<path d="M160.53 211.66 L164.69 215.81 L160.53 219.96 L156.38 215.81 Z" fill="#fff" stroke="#008000" stroke-width="1.40"/>
<path d="M203.45 199.97 L207.60 204.12 L203.45 208.27 L199.30 204.12 Z" fill="#fff" stroke="#008000" stroke-width="1.40"/>
<path d="M274.98 166.37 L279.12 170.52 L274.98 174.67 L270.83 170.52 Z" fill="#fff" stroke="#008000" stroke-width="1.40"/>
<path d="M346.50 143.79 L350.65 147.94 L346.50 152.09 L342.35 147.94 Z" fill="#fff" stroke="#008000" stroke-width="1.40"/>
<g font-family="'Liberation Sans', sans-serif" font-size="13.9" fill="#000">
<text x="36.95" y="225.15" textLength="7.35" lengthAdjust="spacingAndGlyphs">0</text>
<text x="29.60" y="198.27" textLength="14.70" lengthAdjust="spacingAndGlyphs">10</text>
<text x="29.60" y="171.39" textLength="14.70" lengthAdjust="spacingAndGlyphs">20</text>
<text x="29.60" y="144.51" textLength="14.70" lengthAdjust="spacingAndGlyphs">30</text>
<text x="29.60" y="117.63" textLength="14.70" lengthAdjust="spacingAndGlyphs">40</text>
<text x="29.60" y="90.75" textLength="14.70" lengthAdjust="spacingAndGlyphs">50</text>
<text x="29.60" y="63.87" textLength="14.70" lengthAdjust="spacingAndGlyphs">60</text>
<text x="29.60" y="36.99" textLength="14.70" lengthAdjust="spacingAndGlyphs">70</text>
<text x="29.60" y="10.11" textLength="14.70" lengthAdjust="spacingAndGlyphs">80</text>
<text x="56.73" y="247.5" textLength="7.35" lengthAdjust="spacingAndGlyphs">0</text>
<text x="124.58" y="247.5" textLength="14.70" lengthAdjust="spacingAndGlyphs">50</text>
<text x="192.43" y="247.5" textLength="22.05" lengthAdjust="spacingAndGlyphs">100</text>
<text x="263.95" y="247.5" textLength="22.05" lengthAdjust="spacingAndGlyphs">150</text>
<text x="335.48" y="247.5" textLength="22.05" lengthAdjust="spacingAndGlyphs">200</text>
</g>
<text x="152.0" y="273.1" font-family="'Liberation Sans', sans-serif" font-size="15" textLength="104" lengthAdjust="spacingAndGlyphs">Pressure (GPa)</text>
<g transform="translate(13.5,0) rotate(-90)" font-family="'Liberation Sans', sans-serif">
<text x="-190.90" y="0.00" font-size="13.9" textLength="57.60" lengthAdjust="spacingAndGlyphs">Fraction</text>
<text x="-128.50" y="0.00" font-size="13.9" textLength="13.90" lengthAdjust="spacingAndGlyphs">of</text>
<text x="-111.20" y="0.00" font-size="13.9" textLength="23.70" lengthAdjust="spacingAndGlyphs">SiO</text>
<text x="-86.50" y="4.40" font-size="10" textLength="6.50" lengthAdjust="spacingAndGlyphs">x</text>
<text x="-75.50" y="0.00" font-size="13.9" textLength="33.70" lengthAdjust="spacingAndGlyphs">units</text>
</g>
<path d="M222.80 18.60H253.60" stroke="#000000" stroke-width="1.70"/><rect x="235.55" y="15.85" width="5.50" height="5.50" fill="#fff" stroke="#000000" stroke-width="1.40"/><text x="256.00" y="23.30" font-family="'Liberation Sans', sans-serif" font-size="12" textLength="16.2" lengthAdjust="spacingAndGlyphs">SiO</text><text x="272.40" y="27.50" font-family="'Liberation Sans', sans-serif" font-size="7.8" textLength="3.7" lengthAdjust="spacingAndGlyphs">4</text>
<path d="M278.20 18.60H309.00" stroke="#ff0000" stroke-width="1.70"/><circle cx="293.70" cy="18.60" r="3.1" fill="#fff" stroke="#ff0000" stroke-width="1.40"/><text x="311.40" y="23.30" font-family="'Liberation Sans', sans-serif" font-size="12" textLength="16.2" lengthAdjust="spacingAndGlyphs">SiO</text><text x="327.80" y="27.50" font-family="'Liberation Sans', sans-serif" font-size="7.8" textLength="3.7" lengthAdjust="spacingAndGlyphs">5</text>
<path d="M222.80 38.30H253.60" stroke="#0000ff" stroke-width="1.70"/><path d="M238.30 34.35 L241.70 40.25 L234.90 40.25 Z" fill="#fff" stroke="#0000ff" stroke-width="1.40"/><text x="256.00" y="43.00" font-family="'Liberation Sans', sans-serif" font-size="12" textLength="16.2" lengthAdjust="spacingAndGlyphs">SiO</text><text x="272.40" y="47.20" font-family="'Liberation Sans', sans-serif" font-size="7.8" textLength="3.7" lengthAdjust="spacingAndGlyphs">6</text>
<path d="M278.20 38.30H309.00" stroke="#ff00ff" stroke-width="1.70"/><path d="M293.70 42.25 L297.10 36.35 L290.30 36.35 Z" fill="#fff" stroke="#ff00ff" stroke-width="1.40"/><text x="311.40" y="43.00" font-family="'Liberation Sans', sans-serif" font-size="12" textLength="16.2" lengthAdjust="spacingAndGlyphs">SiO</text><text x="327.80" y="47.20" font-family="'Liberation Sans', sans-serif" font-size="7.8" textLength="3.7" lengthAdjust="spacingAndGlyphs">7</text>
<path d="M222.80 57.80H253.60" stroke="#008000" stroke-width="1.70"/><path d="M238.30 53.65 L242.45 57.80 L238.30 61.95 L234.15 57.80 Z" fill="#fff" stroke="#008000" stroke-width="1.40"/><text x="256.00" y="62.50" font-family="'Liberation Sans', sans-serif" font-size="12" textLength="16.2" lengthAdjust="spacingAndGlyphs">SiO</text><text x="272.40" y="66.70" font-family="'Liberation Sans', sans-serif" font-size="7.8" textLength="3.7" lengthAdjust="spacingAndGlyphs">8</text>
</svg>
</body></html>
